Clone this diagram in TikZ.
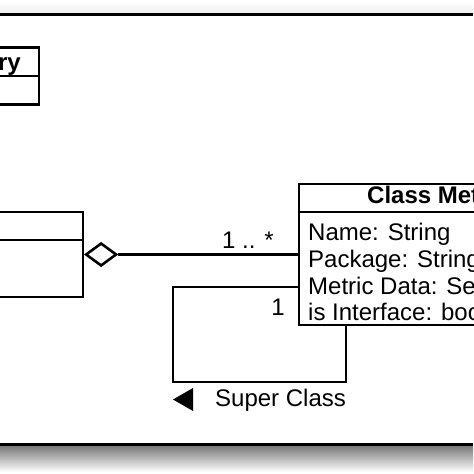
\documentclass[tikz,border=0pt]{standalone}
\usepackage{fontspec}
\setmainfont{Liberation Sans}
\usetikzlibrary{shapes.geometric,positioning}
\definecolor{ink}{HTML}{000000}
\definecolor{shadow}{HTML}{7A7A7A}
\definecolor{haze}{HTML}{EEEEEE}
\tikzset{
  classbox/.style={draw=ink, line width=2.6pt, fill=white, inner sep=0pt},
  divider/.style={draw=ink, line width=2.6pt},
  link/.style={draw=ink, line width=2.6pt},
  aggmark/.style={diamond, draw=ink, line width=2.6pt, fill=white, inner sep=0pt, minimum width=31pt, minimum height=23pt},
  attr/.style={font=\fontsize{24}{28}\selectfont, text=ink, inner sep=0pt, anchor=base west},
  heading/.style={font=\fontsize{24}{28}\selectfont\bfseries, text=ink, inner sep=0pt},
  mult/.style={font=\fontsize{24}{28}\selectfont, text=ink, inner sep=0pt, anchor=base east},
  frameline/.style={draw=ink, line width=3pt}
}

\begin{document}
\begin{tikzpicture}[x=1pt,y=-1pt]
\useasboundingbox (0,0) rectangle (474,474);
\clip (0,0) rectangle (474,474);
% page frame
\shade[top color=white, bottom color=haze] (0,2) rectangle (473,13);
\shade[top color=shadow, bottom color=white] (0,446) rectangle (473,472);
\draw[frameline] (0,14.5) -- (473,14.5);
\draw[frameline] (0,444.5) -- (473,444.5);
% classes
\node[classbox, minimum width=99pt, minimum height=57pt] (summary) at (-10.5,76) {};
\draw[divider] (summary.west |- 0,76) -- (summary.east |- 0,76);
\node[heading, anchor=base east] (summarytitle) at (21,70) {ry};
\node[classbox, minimum width=120pt, minimum height=85pt] (owner) at (23,254.5) {};
\draw[divider] (owner.west |- 0,240) -- (owner.east |- 0,240);
\node[classbox, minimum width=261pt, minimum height=141pt] (metric) at (429.5,254.5) {};
\draw[divider] (metric.west |- 0,212) -- (metric.east |- 0,212);
\node[heading, anchor=base west] (metrictitle) at (367,203) {Class Met};
\node[attr] (aname) at (308,240) {Name: String};
\node[attr] (apackage) at (308,267) {Package: String};
\node[attr] (adata) at (308,294) {Metric Data: Se};
\node[attr] (ainterface) at (308,320) {is Interface: boo};
% aggregation
\node[aggmark, anchor=west] (agg) at (owner.east) {};
\draw[link] (agg.east) -- (metric.west);
\node[mult] (manyend) at (274,248) {1 .. *};
% self association
\draw[link] (metric.west |- 0,287) -| (173,382) -| (metric.south -| 346,0);
\node[mult] (oneend) at (285,315) {1};
\fill[ink] (193,388) -- (193,411) -- (173,399.5) -- cycle;
\node[attr] (rolename) at (215,406) {Super Class};
\end{tikzpicture}
\end{document}
